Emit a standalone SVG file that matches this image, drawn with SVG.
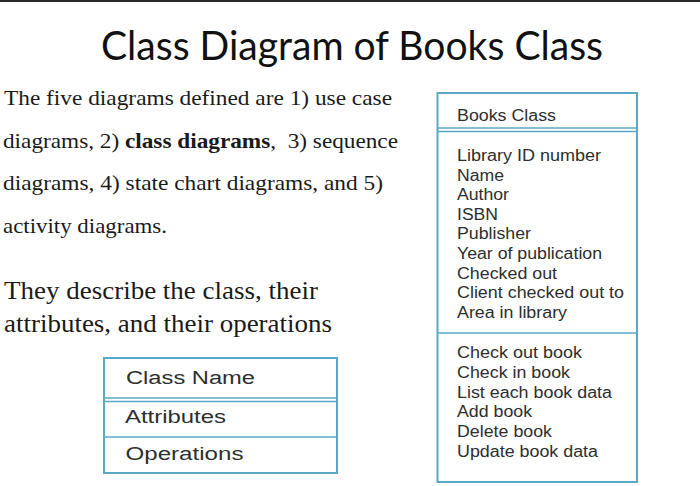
<svg xmlns="http://www.w3.org/2000/svg" width="700" height="486" viewBox="0 0 700 486">
<style>
.title{font-family:Lato,"Open Sans","Liberation Sans",sans-serif;font-size:40px;fill:#111}
.serif{font-family:"Liberation Serif","Times New Roman",serif;fill:#1a1a1a;white-space:pre}
.p1{font-size:21px}
.p2{font-size:26px}
.box{fill:#fff;stroke:#5aa8c6;stroke-width:2}
.div{stroke:#5aa8c6;stroke-width:1.6}
.lbl{font-family:"Liberation Sans",Arial,sans-serif;fill:#2e2e2e}
.r{font-size:16px}
.s{font-size:18px}
</style>
<rect x="0" y="0" width="700" height="486" fill="#fff"/>
<rect x="0" y="0" width="700" height="2" fill="#2a2a2a"/>
<g id="title">
<text class="title" x="101" y="60" textLength="502" lengthAdjust="spacingAndGlyphs">Class Diagram of Books Class</text>
</g>
<g id="intro-text">
<text class="serif p1" x="4" y="105" textLength="388" lengthAdjust="spacingAndGlyphs">The five diagrams defined are 1) use case</text>
<text class="serif p1" x="3" y="148" textLength="395" lengthAdjust="spacingAndGlyphs">diagrams, 2) <tspan font-weight="bold">class diagrams</tspan>,  3) sequence</text>
<text class="serif p1" x="3" y="190" textLength="380" lengthAdjust="spacingAndGlyphs">diagrams, 4) state chart diagrams, and 5)</text>
<text class="serif p1" x="3" y="233" textLength="164" lengthAdjust="spacingAndGlyphs">activity diagrams.</text>
<text class="serif p2" x="4" y="299" textLength="314" lengthAdjust="spacingAndGlyphs">They describe the class, their</text>
<text class="serif p2" x="4" y="332" textLength="328" lengthAdjust="spacingAndGlyphs">attributes, and their operations</text>
</g>
<g id="generic-class">
<rect class="box" x="104" y="358" width="233" height="115"/>
<line class="div" x1="104" y1="398" x2="337" y2="398"/>
<line class="div" x1="104" y1="401.5" x2="337" y2="401.5"/>
<line class="div" x1="104" y1="437" x2="337" y2="437"/>
<text class="lbl s" x="126" y="384" textLength="129" lengthAdjust="spacingAndGlyphs">Class Name</text>
<text class="lbl s" x="125" y="423" textLength="101" lengthAdjust="spacingAndGlyphs">Attributes</text>
<text class="lbl s" x="125.5" y="460" textLength="118" lengthAdjust="spacingAndGlyphs">Operations</text>
</g>
<g id="books-class">
<rect class="box" x="437.5" y="93" width="199.5" height="389"/>
<line class="div" x1="437.5" y1="128" x2="637" y2="128"/>
<line class="div" x1="437.5" y1="131.5" x2="637" y2="131.5"/>
<line class="div" x1="437.5" y1="333" x2="637" y2="333"/>
<text class="lbl r" x="457" y="121" textLength="99" lengthAdjust="spacingAndGlyphs">Books Class</text>
<text class="lbl r" x="457" y="161" textLength="144" lengthAdjust="spacingAndGlyphs">Library ID number</text>
<text class="lbl r" x="457" y="180.5" textLength="47" lengthAdjust="spacingAndGlyphs">Name</text>
<text class="lbl r" x="457" y="200" textLength="52" lengthAdjust="spacingAndGlyphs">Author</text>
<text class="lbl r" x="457" y="219.5" textLength="41" lengthAdjust="spacingAndGlyphs">ISBN</text>
<text class="lbl r" x="457" y="239" textLength="74" lengthAdjust="spacingAndGlyphs">Publisher</text>
<text class="lbl r" x="457" y="259" textLength="145" lengthAdjust="spacingAndGlyphs">Year of publication</text>
<text class="lbl r" x="457" y="278.5" textLength="100" lengthAdjust="spacingAndGlyphs">Checked out</text>
<text class="lbl r" x="457" y="298" textLength="167" lengthAdjust="spacingAndGlyphs">Client checked out to</text>
<text class="lbl r" x="457" y="318" textLength="110" lengthAdjust="spacingAndGlyphs">Area in library</text>
<text class="lbl r" x="457" y="358" textLength="125" lengthAdjust="spacingAndGlyphs">Check out book</text>
<text class="lbl r" x="457" y="378" textLength="113" lengthAdjust="spacingAndGlyphs">Check in book</text>
<text class="lbl r" x="457" y="397.5" textLength="155" lengthAdjust="spacingAndGlyphs">List each book data</text>
<text class="lbl r" x="457" y="417" textLength="75" lengthAdjust="spacingAndGlyphs">Add book</text>
<text class="lbl r" x="457" y="437" textLength="95" lengthAdjust="spacingAndGlyphs">Delete book</text>
<text class="lbl r" x="457" y="457" textLength="141" lengthAdjust="spacingAndGlyphs">Update book data</text>
</g>
</svg>
